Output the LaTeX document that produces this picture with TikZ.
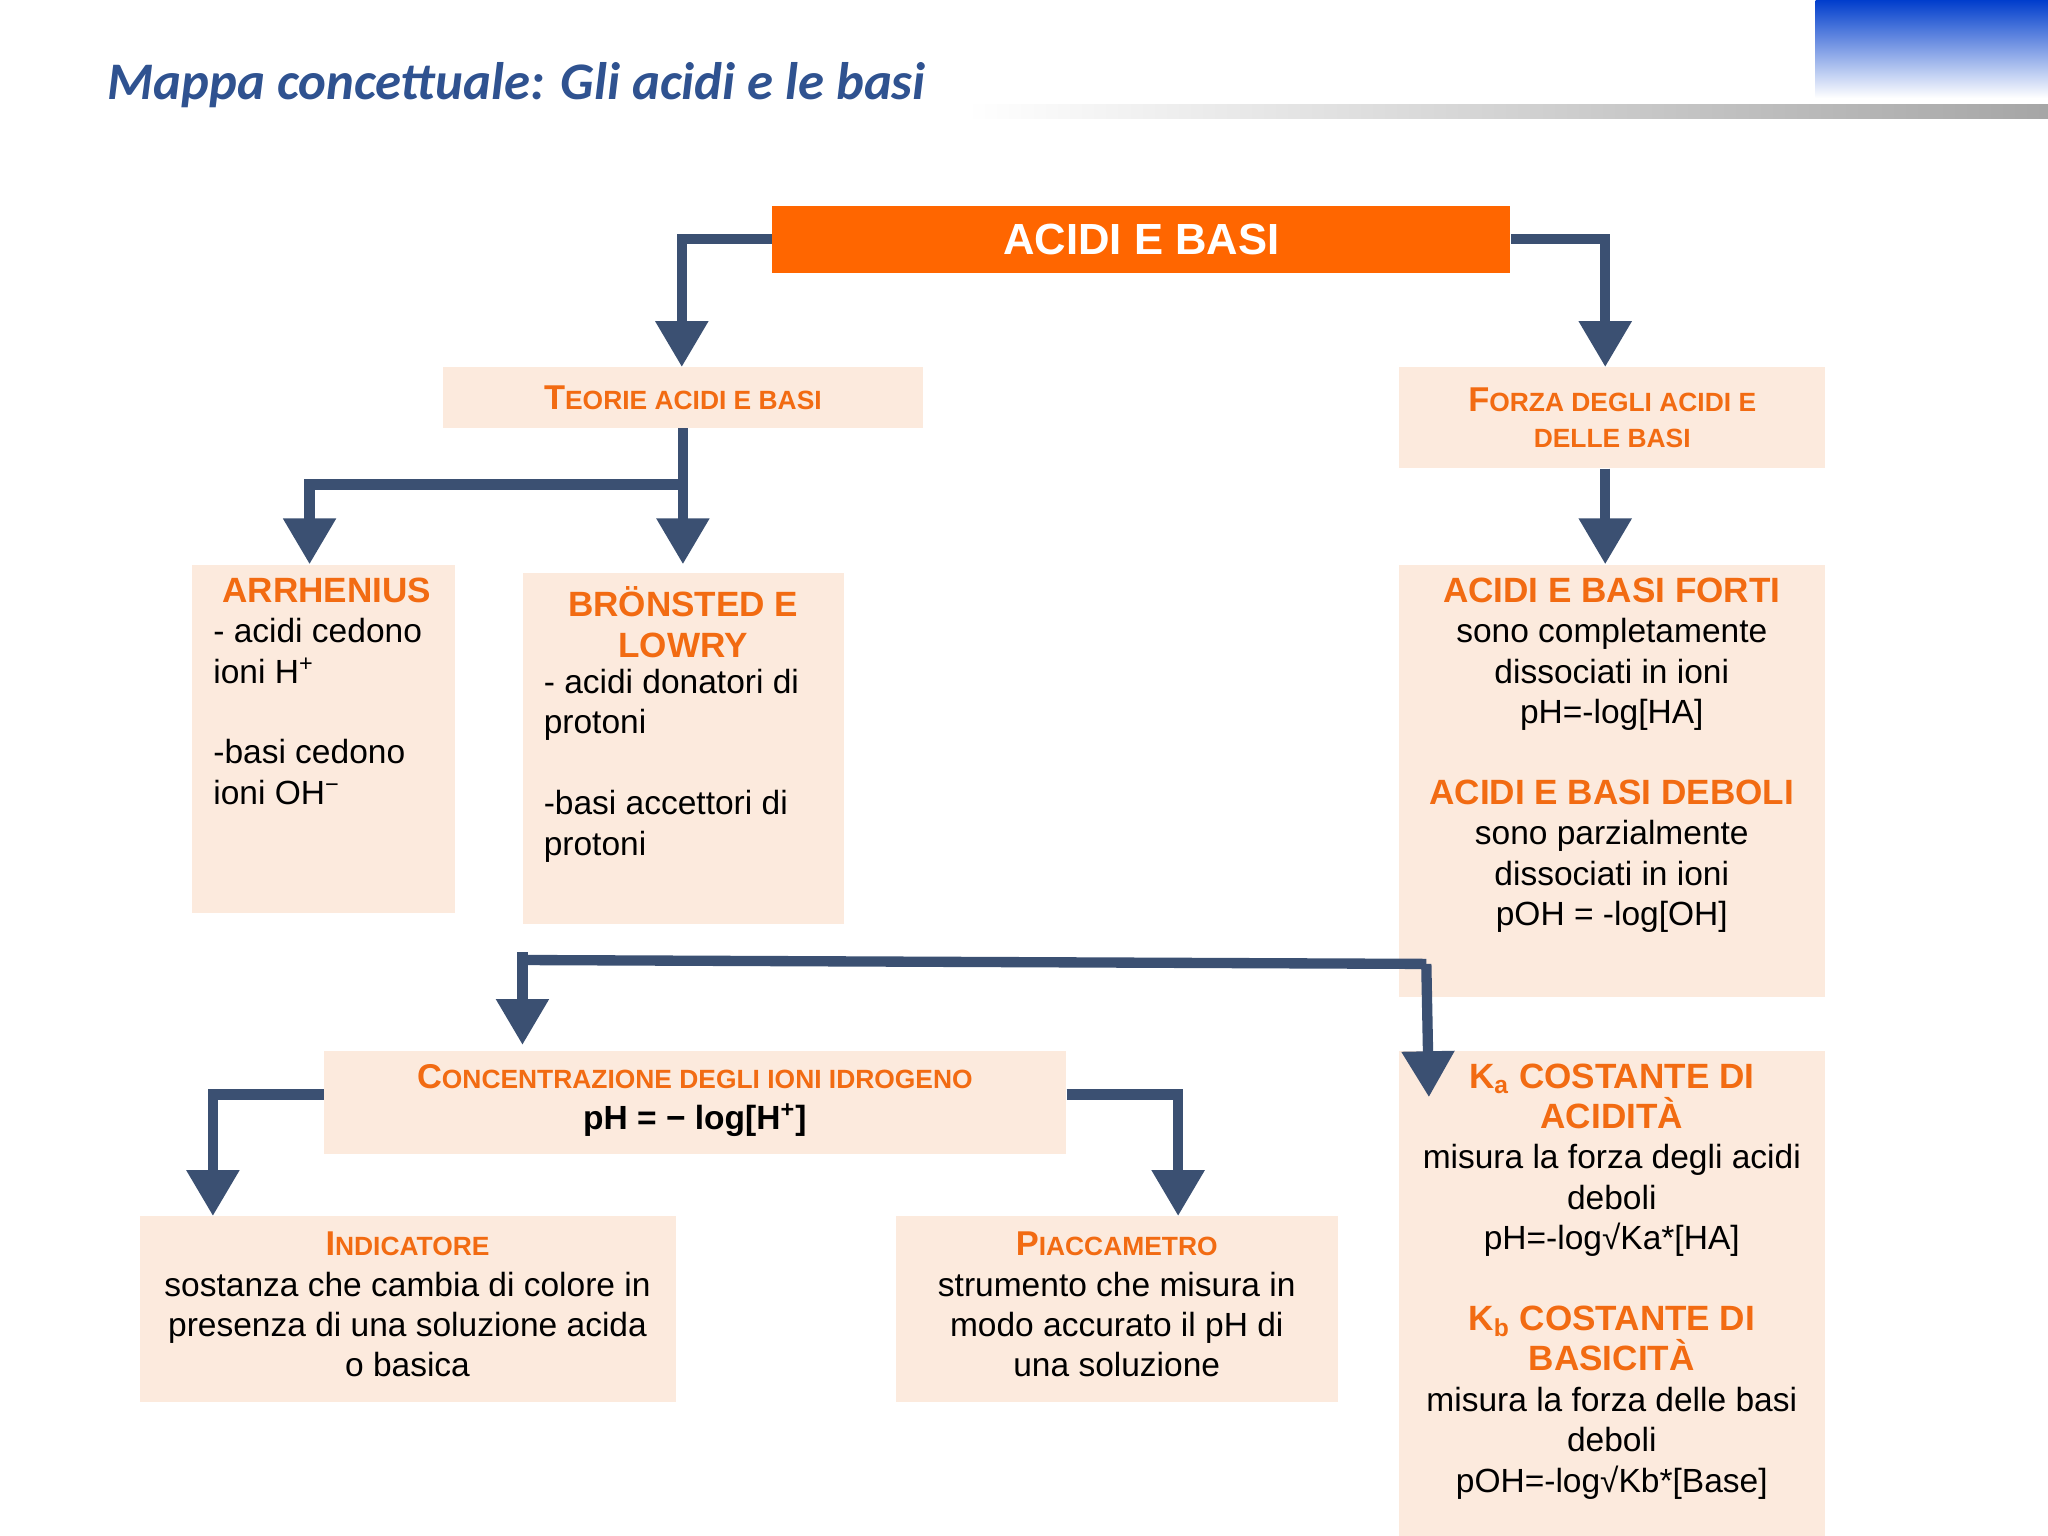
\documentclass[tikz,border=0pt]{standalone}
\usepackage{fontspec}
\setmainfont{Liberation Sans}
\newfontfamily\titlefont{Carlito}
\usetikzlibrary{arrows.meta}
\definecolor{conn}{HTML}{3B5072}
\definecolor{orng}{HTML}{F26B12}
\definecolor{peach}{HTML}{FCEADD}
\definecolor{ttl}{HTML}{2F5290}
\definecolor{rootc}{HTML}{FF6600}
\newcommand{\fsc}[2]{{\fontsize{15}{18}\selectfont #1}{\fontsize{11.5}{18}\selectfont #2}}
\newcommand{\hd}[1]{{\color{orng}\bfseries\fontsize{15.3}{17.6}\selectfont #1}}
\begin{document}
\begin{tikzpicture}[x=0.02cm,y=-0.02cm,
  box/.style={fill=peach,draw=none,inner sep=0,anchor=north west},
  txt/.style={anchor=north,inner sep=0,align=center,font=\fontsize{14.6}{17.6}\selectfont},
  ltxt/.style={anchor=north west,inner sep=0,align=left,font=\fontsize{14.6}{17.6}\selectfont},
  con/.style={draw=conn,line width=4.5pt},
  arr/.style={con,-{Triangle[width=22pt,length=20pt]}}]
\useasboundingbox (0,0) rectangle (1568,1176);
\fill[white] (0,0) rectangle (1568,1176);
% decoration
\shade[top color=blue!70!cyan!80!black, bottom color=white] (1390,0) rectangle (1568,75);
\shade[left color=white, right color=gray!70] (740,80) rectangle (1568,91);
\node[anchor=west,inner sep=0,text=ttl,font=\titlefont\bfseries\itshape\fontsize{23}{28}\selectfont] (title) at (82,65) {Mappa concettuale: Gli acidi e le basi};
% boxes
\node[box,fill=rootc,minimum width=565*0.02cm,minimum height=52*0.02cm] (root) at (591,157) {};
\node[text=white,font=\bfseries\fontsize{19}{23}\selectfont] (roott) at (root.center) {ACIDI E BASI};
\node[box,minimum width=367*0.02cm,minimum height=46*0.02cm] (teo) at (339,281) {};
\node[text=orng,font=\bfseries] (teot) at (teo.center) {\fsc{T}{EORIE ACIDI E BASI}};
\node[box,minimum width=326*0.02cm,minimum height=77*0.02cm] (forza) at (1071,281) {};
\node[text=orng,font=\bfseries,align=center] (forzat) at (forza.center) {\fsc{F}{ORZA DEGLI ACIDI E}\\[4pt]{\fontsize{11.5}{18}\selectfont DELLE BASI}};
\node[box,minimum width=201*0.02cm,minimum height=267*0.02cm] (arr) at (147,432) {};
\node[ltxt] (arrt) at (163,442) {\hspace*{4pt}\hd{ARRHENIUS}\\- acidi cedono\\ioni H\textsuperscript{+}\\[17.6pt]-basi cedono\\ioni OH\textsuperscript{−}};
\node[box,minimum width=246*0.02cm,minimum height=269*0.02cm] (bro) at (400,438) {};
\node[txt] (brohd) at (523,449) {\hd{BRÖNSTED E}\\\hd{LOWRY}};
\node[ltxt] (brot) at (416,512) {- acidi donatori di\\protoni\\[17.6pt]-basi accettori di\\protoni};
\node[box,minimum width=326*0.02cm,minimum height=331*0.02cm] (forti) at (1071,432) {};
\node[txt] (fortit) at (1234,442) {\hd{ACIDI E BASI FORTI}\\sono completamente\\dissociati in ioni\\pH=-log[HA]\\[17.6pt]\hd{ACIDI E BASI DEBOLI}\\sono parzialmente\\dissociati in ioni\\pOH = -log[OH]};
\node[box,minimum width=568*0.02cm,minimum height=79*0.02cm] (conc) at (248,804) {};
\node[txt] (conct) at (532,815) {{\color{orng}\bfseries\fsc{C}{ONCENTRAZIONE DEGLI IONI IDROGENO}}\\\bfseries pH = − log[H\textsuperscript{+}]};
\node[box,minimum width=326*0.02cm,minimum height=372*0.02cm] (ka) at (1071,804) {};
\node[txt] (kat) at (1234,814) {\hd{K\textsubscript{a} COSTANTE DI}\\\hd{ACIDITÀ}\\misura la forza degli acidi\\deboli\\pH=-log√Ka*[HA]\\[17.6pt]\hd{K\textsubscript{b} COSTANTE DI}\\\hd{BASICITÀ}\\misura la forza delle basi\\deboli\\pOH=-log√Kb*[Base]};
\node[box,minimum width=410*0.02cm,minimum height=142*0.02cm] (ind) at (107,931) {};
\node[txt] (indt) at (312,943) {{\color{orng}\bfseries\fsc{I}{NDICATORE}}\\sostanza che cambia di colore in\\presenza di una soluzione acida\\o basica};
\node[box,minimum width=338*0.02cm,minimum height=142*0.02cm] (pia) at (686,931) {};
\node[txt] (piat) at (855,943) {{\color{orng}\bfseries\fsc{P}{IACCAMETRO}}\\strumento che misura in\\modo accurato il pH di\\una soluzione};
% connectors
\coordinate (j1) at (522,183); \coordinate (j2) at (1229,183);
\coordinate (j3) at (522,371); \coordinate (j4) at (237,371);
\coordinate (j5) at (400,735); \coordinate (j6) at (1092,738);
\coordinate (j7) at (163,838); \coordinate (j8) at (902,838);
\draw[arr] (root.west|-j1) -- (j1) -- (j1|-teo.north);
\draw[arr] (root.east|-j2) -- (j2) -- (j2|-forza.north);
\draw[arr] (teo.south) -- (teo.south|-arr.north);
\draw[arr] (j3) -- (j4) -- (j4|-arr.north);
\draw[arr] (forza.south-|j2) -- (j2|-forti.north);
\draw[arr] (400,729) -- (400,800);
\draw[con] (j5) -- (j6);
\draw[arr] (j6) -- (1094,840);
\draw[arr] (conc.west|-j7) -- (j7) -- (j7|-ind.north);
\draw[arr] (conc.east|-j8) -- (j8) -- (j8|-pia.north);
\end{tikzpicture}
\end{document}
